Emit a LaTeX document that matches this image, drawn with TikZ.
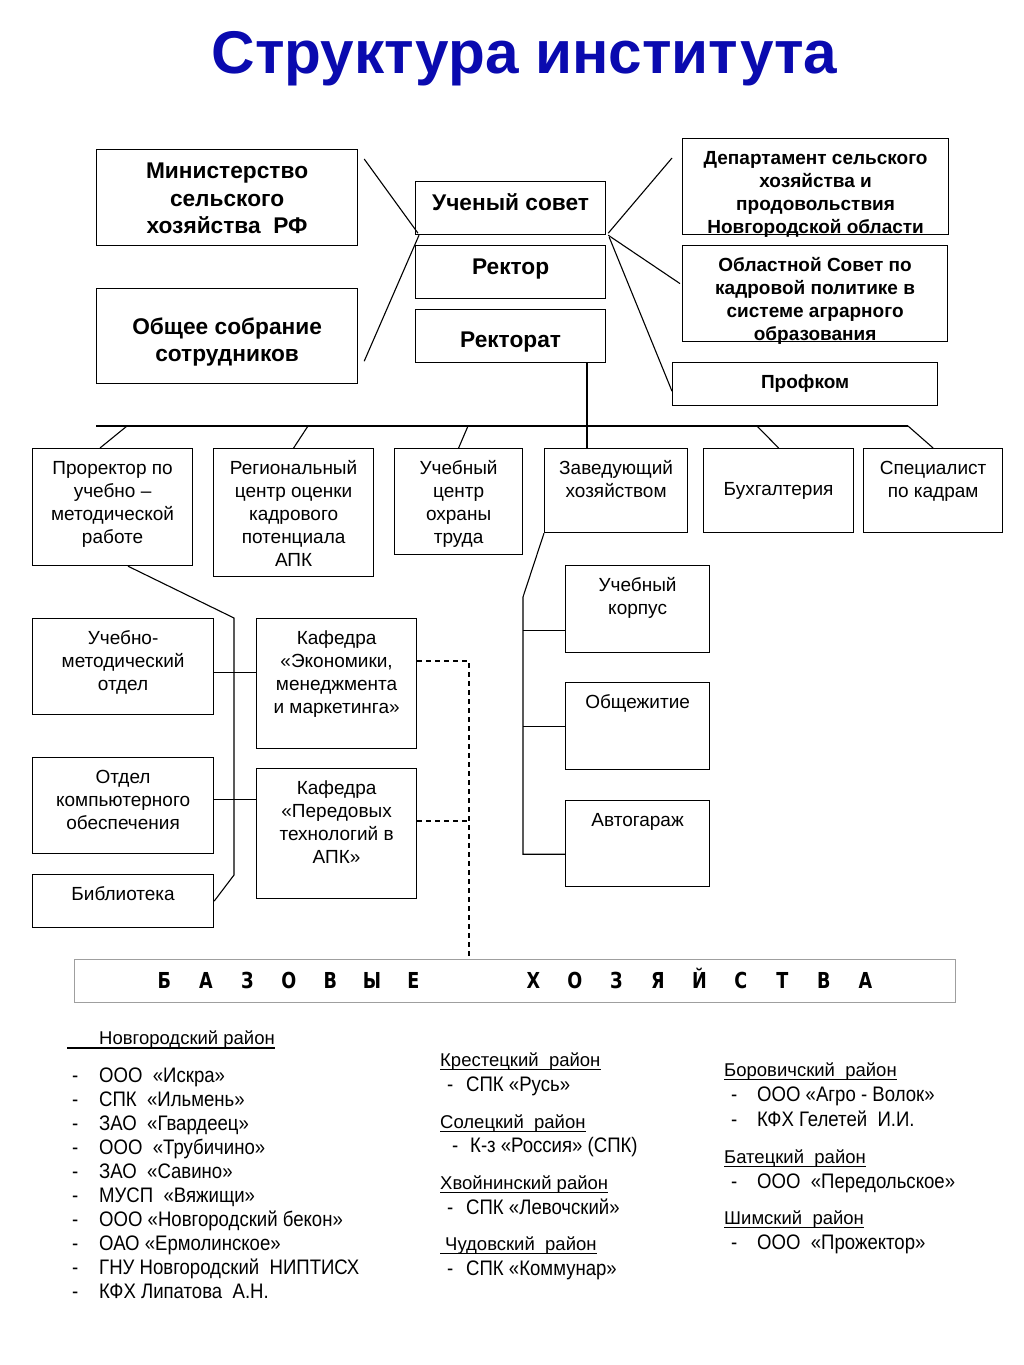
\documentclass[tikz,border=0pt]{standalone}
\usepackage{fontspec}
\setmainfont{Liberation Sans}
\newfontfamily\narrowf[FakeStretch=0.885]{Liberation Sans}
\newfontfamily\bazf[FakeStretch=0.8]{DejaVu Sans}
\definecolor{titleblue}{RGB}{10,10,175}
\newcommand\tbx[4]{\parbox[c][#2pt][t]{#1pt}{\centering\vspace*{#3pt}\strut #4\par}}
\newcommand\cbx[3]{\parbox[c][#2pt][c]{#1pt}{\centering\strut #3\par}}
\newcommand\blt[1]{\makebox[41.5pt]{#1}}
\tikzset{
  bx/.style={draw, line width=1.2pt, inner sep=0pt, anchor=north west, font=\fontsize{19}{23}\selectfont},
  bbx/.style={bx, font=\bfseries\fontsize{22.7}{27.5}\selectfont},
  dbx/.style={bx, font=\bfseries\fontsize{19}{23}\selectfont},
  ln/.style={line width=1.1pt},
  dsh/.style={line width=1.1pt, dash pattern=on 5pt off 4pt},
  ul/.style={line width=1.1pt},
  hd/.style={anchor=base west, inner sep=0pt, font=\fontsize{18.5}{22}\selectfont},
  it/.style={anchor=base west, inner sep=0pt, font=\narrowf\fontsize{21}{24}\selectfont},
}
\begin{document}
\begin{tikzpicture}[x=1pt,y=-1pt]
\useasboundingbox (0,0) rectangle (1024,1365);
\node[anchor=base, inner sep=0pt, text=titleblue, font=\bfseries\fontsize{60.3}{70}\selectfont] (title) at (524.5,73) {Структура института};

% top boxes
\node[bbx] (min) at (96,149) {\tbx{261}{96}{10}{Министерство\\сельского\\хозяйства~ РФ}};
\node[bbx] (obs) at (96,288) {\tbx{261}{95}{26.5}{Общее собрание\\сотрудников}};
\node[bbx] (us) at (415,181) {\tbx{190}{53}{10}{Ученый совет}};
\node[bbx] (rk) at (415,245) {\tbx{190}{53}{10}{Ректор}};
\node[bbx] (rt) at (415,309) {\tbx{190}{53}{18.5}{Ректорат}};
\node[dbx] (dep) at (682,138) {\tbx{266}{96}{9.5}{Департамент сельского\\хозяйства и\\продовольствия\\Новгородской области}};
\node[dbx] (obl) at (682,245) {\tbx{265}{96}{9.5}{Областной Совет по\\кадровой политике в\\системе аграрного\\образования}};
\node[dbx] (prof) at (672,362) {\tbx{265}{43}{9.5}{Профком}};

% second row
\node[bx] (pr) at (32,448) {\tbx{160}{117}{10}{Проректор по\\учебно –\\методической\\работе}};
\node[bx] (reg) at (213,448) {\tbx{160}{128}{10}{Региональный\\центр оценки\\кадрового\\потенциала\\АПК}};
\node[bx] (uc) at (394,448) {\tbx{128}{106}{10}{Учебный\\центр\\охраны\\труда}};
\node[bx] (zav) at (544,448) {\tbx{143}{84}{10}{Заведующий\\хозяйством}};
\node[bx] (buh) at (703,448) {\cbx{150}{84}{Бухгалтерия}};
\node[bx] (spec) at (863,448) {\tbx{139}{84}{10}{Специалист\\по кадрам}};

% lower boxes
\node[bx] (umo) at (32,618) {\tbx{181}{96}{10}{Учебно-\\методический\\отдел}};
\node[bx] (kaf1) at (256,618) {\tbx{160}{130}{10}{Кафедра\\«Экономики,\\менеджмента\\и маркетинга»}};
\node[bx] (otd) at (32,757) {\tbx{181}{96}{10}{Отдел\\компьютерного\\обеспечения}};
\node[bx] (kaf2) at (256,768) {\tbx{160}{130}{10}{Кафедра\\«Передовых\\технологий в\\АПК»}};
\node[bx] (bib) at (32,874) {\tbx{181}{53}{10}{Библиотека}};
\node[bx] (uk) at (565,565) {\tbx{144}{87}{10}{Учебный\\корпус}};
\node[bx] (obsh) at (565,682) {\tbx{144}{87}{10}{Общежитие}};
\node[bx] (avto) at (565,800) {\tbx{144}{86}{10}{Автогараж}};

% base farms box
\node[draw=gray!75, line width=0.9pt, minimum width=881pt, minimum height=43pt, inner sep=0pt,
      anchor=north west, text height=16pt, text depth=0pt,
      font=\bazf\bfseries\fontsize{22}{24}\selectfont] (baz) at (74,959)
  {\blt{Б}\blt{А}\blt{З}\blt{О}\blt{В}\blt{Ы}\blt{Е}\hspace{78.5pt}\blt{Х}\blt{О}\blt{З}\blt{Я}\blt{Й}\blt{С}\blt{Т}\blt{В}\blt{А}};

% connectors top
\draw[ln] ([shift={(6,10)}]min.north east) -- ([shift={(3,-2)}]us.south west);
\draw[ln] ([shift={(6,-23)}]obs.south east) -- ([shift={(4,0)}]us.south west);
\draw[ln] ([shift={(2,-2)}]us.south east) -- ([shift={(-10,20)}]dep.north west);
\draw[ln] ([shift={(2,0)}]us.south east) -- ([shift={(-2,-10)}]obl.west);
\draw[ln] ([shift={(3,2)}]us.south east) -- ([shift={(0,-15)}]prof.south west);

% bus
\coordinate (hub) at (587,426);
\coordinate (bl) at (96,426);
\coordinate (b1) at (127,426);
\coordinate (b2) at (308,426);
\coordinate (b3) at (468,426);
\coordinate (b5) at (757,426);
\coordinate (b6) at (908,426);
\draw[ln] (bl) -- (b6);
\draw[ln] (rt.south -| hub) -- (zav.north -| hub);
\draw[ln] (b1) -- ([xshift=68pt]pr.north west);
\draw[ln] (b2) -- (reg.north);
\draw[ln] (b3) -- (uc.north);
\draw[ln] (b5) -- (buh.north);
\draw[ln] (b6) -- (spec.north);

% prorector branch
\coordinate (v1) at (234,618);
\coordinate (v2) at (234,875);
\draw[ln] ([xshift=96pt]pr.south west) -- (v1) -- (v2) -- (bib.east);
\coordinate (u1) at ([yshift=-6pt]umo.east);
\coordinate (u2) at ([yshift=6pt]otd.east);
\draw[ln] (u1) -- (u1 -| kaf1.west);
\draw[ln] (u2) -- (u2 -| kaf2.west);

% dashed
\coordinate (k1) at ([yshift=-43pt]kaf1.north east);
\coordinate (k2) at ([yshift=-53pt]kaf2.north east);
\coordinate (dj) at (469,661);
\draw[dsh] (k1) -- (dj) -- (dj |- baz.north);
\draw[dsh] (k2) -- (k2 -| dj);

% household branch
\coordinate (zv1) at (523,597);
\coordinate (c1) at ([yshift=23pt]uk.south west);
\coordinate (c2) at ([yshift=44pt]obsh.south west);
\coordinate (c3) at ([yshift=33pt]avto.south west);
\draw[ln] (zav.south west) -- (zv1) -- (zv1 |- c3) -- (c3);
\draw[ln] (zv1 |- c1) -- (c1);
\draw[ln] (zv1 |- c2) -- (c2);

% lists - left
\node[hd] (h1) at (99,1044.5) {Новгородский район};
\draw[ul] ([shift={(-32,3.5)}]h1.base west) -- ([shift={(0,3.5)}]h1.base east);
\node[it] (n1) at (72,1082.5) {\makebox[27pt][l]{-}ООО~ «Искра»};
\node[it] (n2) at (72,1106.5) {\makebox[27pt][l]{-}СПК~ «Ильмень»};
\node[it] (n3) at (72,1130.5) {\makebox[27pt][l]{-}ЗАО~ «Гвардеец»};
\node[it] (n4) at (72,1154.5) {\makebox[27pt][l]{-}ООО~ «Трубичино»};
\node[it] (n5) at (72,1178.5) {\makebox[27pt][l]{-}ЗАО~ «Савино»};
\node[it] (n6) at (72,1202.5) {\makebox[27pt][l]{-}МУСП~ «Вяжищи»};
\node[it] (n7) at (72,1226.5) {\makebox[27pt][l]{-}ООО «Новгородский бекон»};
\node[it] (n8) at (72,1250.5) {\makebox[27pt][l]{-}ОАО «Ермолинское»};
\node[it] (n9) at (72,1274.5) {\makebox[27pt][l]{-}ГНУ Новгородский~ НИПТИСХ};
\node[it] (n10) at (72,1298.5) {\makebox[27pt][l]{-}КФХ Липатова~ А.Н.};

% lists - middle
\node[hd] (h2) at (440,1066) {Крестецкий~ район};
\draw[ul] ([shift={(0,3.5)}]h2.base west) -- ([shift={(0,3.5)}]h2.base east);
\node[it] (m1) at (447,1091.5) {\makebox[19pt][l]{-}СПК «Русь»};
\node[hd] (h3) at (440,1128) {Солецкий~ район};
\draw[ul] ([shift={(0,3.5)}]h3.base west) -- ([shift={(0,3.5)}]h3.base east);
\node[it] (m2) at (452,1152.5) {\makebox[18pt][l]{-}К-з «Россия» (СПК)};
\node[hd] (h4) at (440,1189) {Хвойнинский район};
\draw[ul] ([shift={(0,3.5)}]h4.base west) -- ([shift={(0,3.5)}]h4.base east);
\node[it] (m3) at (447,1214.5) {\makebox[19pt][l]{-}СПК «Левочский»};
\node[hd] (h5) at (445,1250) {Чудовский~ район};
\draw[ul] ([shift={(-5,3.5)}]h5.base west) -- ([shift={(0,3.5)}]h5.base east);
\node[it] (m4) at (447,1275.5) {\makebox[19pt][l]{-}СПК «Коммунар»};

% lists - right
\node[hd] (h6) at (724,1076) {Боровичский~ район};
\draw[ul] ([shift={(0,3.5)}]h6.base west) -- ([shift={(0,3.5)}]h6.base east);
\node[it] (r1) at (731,1101.5) {\makebox[26pt][l]{-}ООО «Агро - Волок»};
\node[it] (r2) at (731,1126.5) {\makebox[26pt][l]{-}КФХ Гелетей~ И.И.};
\node[hd] (h7) at (724,1163) {Батецкий~ район};
\draw[ul] ([shift={(0,3.5)}]h7.base west) -- ([shift={(0,3.5)}]h7.base east);
\node[it] (r3) at (731,1188.5) {\makebox[26pt][l]{-}ООО~ «Передольское»};
\node[hd] (h8) at (724,1224) {Шимский~ район};
\draw[ul] ([shift={(0,3.5)}]h8.base west) -- ([shift={(0,3.5)}]h8.base east);
\node[it] (r4) at (731,1249.5) {\makebox[26pt][l]{-}ООО~ «Прожектор»};
\end{tikzpicture}
\end{document}
